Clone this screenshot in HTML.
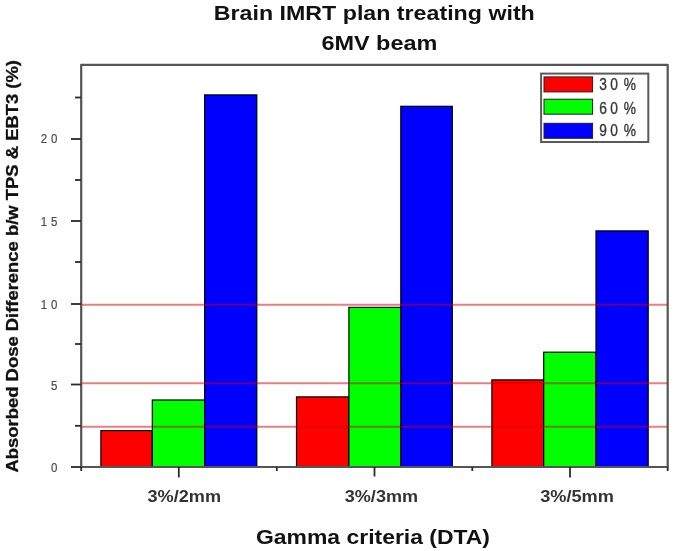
<!DOCTYPE html>
<html>
<head>
<meta charset="utf-8">
<style>
html,body{margin:0;padding:0;background:#fff;}
body{width:673px;height:551px;overflow:hidden;}
svg{display:block;filter:blur(0.5px);}
.b{font-family:"Liberation Sans",Arial,sans-serif;font-weight:bold;}
.title{font-size:21px;fill:#111;}
.xt{font-size:20.5px;fill:#111;}
.xl{font-size:17px;fill:#333;}
.yt{font-size:16px;fill:#111;stroke:#111;stroke-width:0.3px;}
.yl{font-family:"Liberation Sans",Arial,sans-serif;font-size:13.5px;fill:#4a4a4a;stroke:#4a4a4a;stroke-width:0.2px;}
.lg{font-family:"Liberation Sans",Arial,sans-serif;font-size:16px;fill:#3a3a3a;stroke:#3a3a3a;stroke-width:0.35px;}
</style>
</head>
<body>
<svg width="673" height="551" viewBox="0 0 673 551">
  <rect x="0" y="0" width="673" height="551" fill="#fff"/>

  <!-- Title -->
  <text id="t1" class="b title" x="213.8" y="19.7" textLength="321" lengthAdjust="spacingAndGlyphs">Brain IMRT plan treating with</text>
  <text id="t2" class="b title" x="321.4" y="49.6" textLength="116" lengthAdjust="spacingAndGlyphs">6MV beam</text>

  <!-- Bars -->
  <g stroke="#000" stroke-width="1.2">
    <rect x="100.9" y="430.6" width="51.4" height="36.4" fill="#ff0000"/>
    <rect x="152.3" y="400" width="52.3" height="67" fill="#00ff00"/>
    <rect x="204.6" y="94.9" width="52.2" height="372.1" fill="#0000ff"/>

    <rect x="296.5" y="396.9" width="52.4" height="70.1" fill="#ff0000"/>
    <rect x="348.9" y="307.4" width="51.9" height="159.6" fill="#00ff00"/>
    <rect x="400.8" y="106.3" width="51.5" height="360.7" fill="#0000ff"/>

    <rect x="491.9" y="379.9" width="51.8" height="87.1" fill="#ff0000"/>
    <rect x="543.7" y="352.2" width="52.3" height="114.8" fill="#00ff00"/>
    <rect x="596" y="230.9" width="52.2" height="236.1" fill="#0000ff"/>
  </g>

  <!-- Red reference lines -->
  <g stroke="rgb(210,0,0)" stroke-opacity="0.5" stroke-width="2">
    <line x1="82" y1="304.8" x2="667" y2="304.8"/>
    <line x1="82" y1="383.3" x2="667" y2="383.3"/>
    <line x1="82" y1="426.8" x2="667" y2="426.8"/>
  </g>

  <!-- Frame -->
  <rect x="81.2" y="64.8" width="586.5" height="402.2" fill="none" stroke="#555" stroke-width="2.2" stroke-linejoin="round"/>

  <!-- Y ticks -->
  <g stroke="#2a2a2a" stroke-width="1.8">
    <line x1="71" y1="467" x2="81" y2="467"/>
    <line x1="71" y1="384.5" x2="81" y2="384.5"/>
    <line x1="71" y1="304" x2="81" y2="304"/>
    <line x1="71" y1="221" x2="81" y2="221"/>
    <line x1="71" y1="139" x2="81" y2="139"/>
    <line x1="75" y1="425.8" x2="81" y2="425.8"/>
    <line x1="75" y1="344" x2="81" y2="344"/>
    <line x1="75" y1="262" x2="81" y2="262"/>
    <line x1="75" y1="180" x2="81" y2="180"/>
    <line x1="75" y1="97.5" x2="81" y2="97.5"/>
  </g>
  <!-- X ticks -->
  <g stroke="#2a2a2a" stroke-width="1.8">
    <line x1="81.2" y1="467" x2="81.2" y2="471"/>
    <line x1="276.8" y1="467" x2="276.8" y2="471"/>
    <line x1="472.3" y1="467" x2="472.3" y2="471"/>
    <line x1="667.7" y1="467" x2="667.7" y2="471"/>
    <line x1="178.8" y1="467" x2="178.8" y2="477.5"/>
    <line x1="374.5" y1="467" x2="374.5" y2="476.5"/>
    <line x1="570" y1="467" x2="570" y2="477.5"/>
  </g>

  <!-- Y labels -->
  <g class="yl" text-anchor="middle" transform="scale(0.85,1)">
    <text y="472.2" x="63.88">0</text>
    <text y="389.6" x="63.88">5</text>
    <text y="308.8"><tspan x="51.76">1</tspan><tspan x="63.88">0</tspan></text>
    <text y="226.4"><tspan x="51.76">1</tspan><tspan x="63.88">5</tspan></text>
    <text y="143.4"><tspan x="51.76">2</tspan><tspan x="63.88">0</tspan></text>
  </g>

  <!-- X labels -->
  <text class="b xl" x="147.5" y="502" textLength="73.5" lengthAdjust="spacingAndGlyphs">3%/2mm</text>
  <text class="b xl" x="344.8" y="502" textLength="73.2" lengthAdjust="spacingAndGlyphs">3%/3mm</text>
  <text class="b xl" x="540.2" y="502" textLength="73.7" lengthAdjust="spacingAndGlyphs">3%/5mm</text>

  <!-- X title -->
  <text class="b xt" x="256" y="543.5" textLength="234" lengthAdjust="spacingAndGlyphs">Gamma criteria (DTA)</text>

  <!-- Y title -->
  <text class="b yt" transform="translate(18.3,472.5) rotate(-90)" x="0" y="0" textLength="412.5" lengthAdjust="spacingAndGlyphs">Absorbed Dose Difference b/w TPS &amp; EBT3 (%)</text>

  <!-- Legend -->
  <rect x="541.1" y="73.6" width="107.2" height="68.4" fill="#fff" stroke="#5a5a5a" stroke-width="2"/>
  <g stroke="#222" stroke-width="1">
    <rect x="544" y="76.9" width="48.6" height="15" fill="#ff0000"/>
    <rect x="544" y="99.2" width="48.6" height="15" fill="#00ff00"/>
    <rect x="544" y="123.3" width="48.6" height="15" fill="#0000ff"/>
  </g>
  <g class="lg" transform="scale(0.86,1)">
    <text y="89.6"><tspan x="696.7">3</tspan><tspan x="709.7">0</tspan><tspan x="725.3">%</tspan></text>
    <text y="113.6"><tspan x="696.7">6</tspan><tspan x="709.7">0</tspan><tspan x="725.3">%</tspan></text>
    <text y="135.9"><tspan x="696.7">9</tspan><tspan x="709.7">0</tspan><tspan x="725.3">%</tspan></text>
  </g>
</svg>
</body>
</html>
